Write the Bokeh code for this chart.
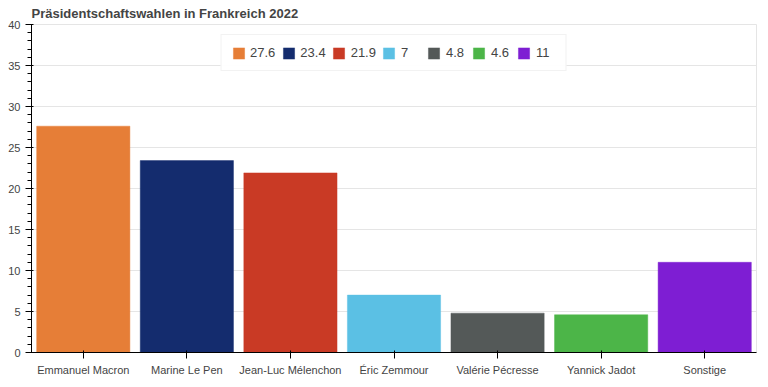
from bokeh.plotting import figure
from bokeh.models import ColumnDataSource, Legend, LegendItem, Range1d
from bokeh.embed import file_html
from bokeh.resources import INLINE

candidates = ["Emmanuel Macron", "Marine Le Pen", "Jean-Luc Mélenchon", "Éric Zemmour",
              "Valérie Pécresse", "Yannick Jadot", "Sonstige"]
votes = [27.6, 23.4, 21.9, 7, 4.8, 4.6, 11]
labels = ["27.6", "23.4", "21.9", "7", "4.8", "4.6", "11"]
colors = ["#E67E37", "#142C6E", "#C93A25", "#5BC0E4", "#545958", "#4CB548", "#7E1ED3"]

FONT = "Liberation Sans"

p = figure(x_range=candidates, y_range=Range1d(0, 40), width=760, height=378,
           title="Präsidentschaftswahlen in Frankreich 2022",
           output_backend="svg", toolbar_location=None,
           min_border_left=31, min_border_right=4, min_border_top=0, min_border_bottom=6)

p.title.text_font = FONT
p.title.text_font_size = "13px"
p.title.text_color = "#444444"
p.title.offset = 0
p.title.standoff = 7

legend_items = []
for i, (c, v, l, col) in enumerate(zip(candidates, votes, labels, colors)):
    src = ColumnDataSource(dict(x=[c], top=[v]))
    r = p.vbar(x="x", top="top", width=0.9, source=src, fill_color=col,
               line_color=col, line_alpha=0.45, line_width=1)
    legend_items.append(LegendItem(label=l, renderers=[r]))

legend = Legend(items=legend_items, orientation="horizontal", location="top_center")
legend.glyph_width = 14
legend.glyph_height = 14
legend.label_text_font = FONT
legend.label_text_font_size = "13px"
legend.label_text_color = "#444444"
legend.border_line_color = "#e5e5e5"
legend.spacing = 6
p.add_layout(legend, "center")

p.xgrid.grid_line_color = None
p.ygrid.grid_line_color = "#e5e5e5"
p.outline_line_color = "#e5e5e5"
p.yaxis.ticker.desired_num_ticks = 8
for ax in (p.xaxis, p.yaxis):
    ax.major_label_text_font = FONT
    ax.major_label_text_font_size = "11px"
    ax.major_label_text_color = "#444444"
    ax.axis_line_color = "black"
    ax.major_tick_line_color = "black"
    ax.minor_tick_line_color = "black"

open("out.html", "w").write(file_html(p, INLINE))
